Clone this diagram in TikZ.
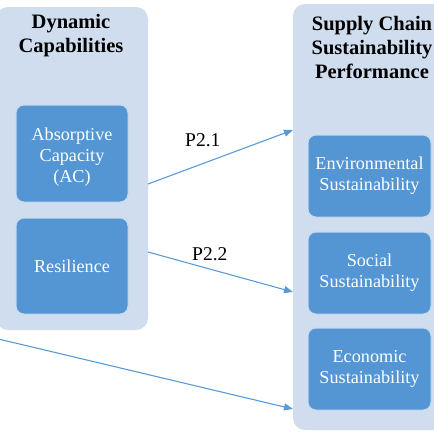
\documentclass[tikz,border=0pt]{standalone}
\usepackage{fontspec}
\setmainfont{Liberation Serif}
\usetikzlibrary{arrows.meta}
\definecolor{contfill}{RGB}{208,221,239}
\definecolor{boxfill}{RGB}{84,150,211}
\definecolor{boxedge}{RGB}{196,216,238}
\definecolor{arrowc}{RGB}{91,155,213}
\tikzset{
  container/.style={rounded corners=12pt, fill=contfill, draw=none, inner sep=0pt, outer sep=0pt},
  dimbox/.style={rounded corners=8pt, fill=boxfill, draw=boxedge, line width=1pt, inner sep=0pt, outer sep=0pt,
    text=white, align=center, font=\fontsize{18.2}{21}\selectfont},
  boxtext/.style={text=white, align=center, inner sep=0pt, font=\fontsize{18.2}{21}\selectfont},
  title/.style={align=center, inner sep=0pt, font=\bfseries\fontsize{20.5}{24}\selectfont},
  plabel/.style={inner sep=0pt, font=\fontsize{19.5}{22}\selectfont},
  conn/.style={draw=arrowc, line width=1.1pt, -{Triangle[length=9pt,width=7pt]}}
}
\begin{document}
\begin{tikzpicture}[x=1pt,y=-1pt]
\useasboundingbox (0,0) rectangle (434,434);
\clip (0,0) rectangle (434,434);
% containers
\node[container, minimum width=152pt, minimum height=323pt] (dc) at (72,168.5) {};
\node[container, minimum width=153pt, minimum height=426pt] (sc) at (369.5,217) {};
% titles
\node[title] (dct) at (71,35.5) {Dynamic\\Capabilities};
\node[title] (sct) at (372,47.5) {Supply Chain\\Sustainability\\Performance};
% left boxes
\node[dimbox, minimum width=112pt, minimum height=97pt] (ac) at (72,153.5) {};
\node[boxtext] (act) at (72,157.5) {Absorptive\\Capacity\\(AC)};
\node[dimbox, minimum width=112pt, minimum height=96pt] (res) at (72,266) {Resilience};
% right boxes
\node[dimbox, minimum width=123pt, minimum height=82pt] (env) at (369.5,176) {Environmental\\Sustainability};
\node[dimbox, minimum width=123pt, minimum height=82pt] (soc) at (369.5,273) {Social\\Sustainability};
\node[dimbox, minimum width=123pt, minimum height=82pt] (eco) at (369.5,369) {Economic\\Sustainability};
% connectors
\coordinate (src3) at (-10,337);
\draw[conn] (dc.east |- 0,184) -- (sc.west |- 0,130);
\draw[conn] (dc.east |- 0,252) -- (sc.west |- 0,292);
\draw[conn] (src3) -- (sc.west |- 0,409);
% labels
\node[plabel, anchor=base west] (p21) at (185,146) {P2.1};
\node[plabel, anchor=base west] (p22) at (192,260) {P2.2};
\end{tikzpicture}
\end{document}
